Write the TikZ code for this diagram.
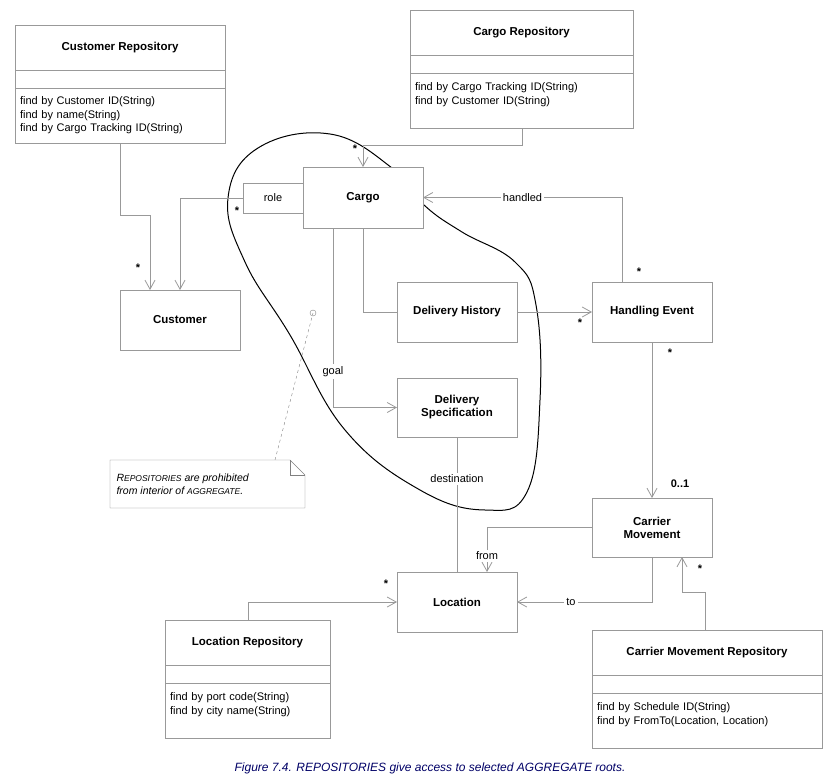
\documentclass[tikz,border=0pt]{standalone}
\usepackage{fontspec}
\setmainfont{Liberation Sans}
\usetikzlibrary{arrows.meta,positioning}
\tikzset{
	every class/.style={
		rectangle,
		draw=gray!80,
		fill=white,
		font=\fontsize{11.5}{13}\selectfont\bfseries,
		align=center,
		inner sep=0pt,
		outer sep=0pt
	},
	class part/.style={
		rectangle,
		draw=gray!80,
		fill=white,
		font=\fontsize{11}{13.5}\selectfont,
		align=left,
		inner xsep=5pt,
		inner ysep=4pt,
		outer sep=0pt,
		anchor=north west
	},
	assoc/.style={
		draw=gray!80,
		line width=0.8pt
	},
	nav/.style={
		assoc,
		-{Straight Barb[length=9pt,width=10pt]}
	},
	mult/.style={
		font=\fontsize{11}{13}\selectfont\bfseries
	},
	lbl/.style={
		fill=white,
		inner sep=2pt,
		font=\fontsize{11}{13}\selectfont
	},
}

\begin{document}
\begin{tikzpicture}[x=1pt,y=-1pt]
\useasboundingbox (0,0) rectangle (838,784);

% aggregate boundary
\draw[line width=1pt] plot[smooth cycle, tension=0.7] coordinates {
	(392,168) (330,134) (258,148) (228,198) (245,262) (290,335)
	(345,430) (420,490) (485,510) (527,492) (540,400) (536,305)
	(515,262) (462,232) (424,205)};

% plain classes
\node[every class, minimum width=120, minimum height=61] (cargo) at (363,197.5) {Cargo};
\node[every class, minimum width=60, minimum height=30, font=\fontsize{11}{13}\selectfont] (role) at (273,198) {role};
\node[every class, minimum width=120, minimum height=60] (customer) at (180,320) {Customer};
\node[every class, minimum width=120, minimum height=60] (history) at (457,312) {Delivery History};
\node[every class, minimum width=120, minimum height=60] (event) at (652,312) {Handling Event};
\node[every class, minimum width=120, minimum height=59] (spec) at (457,407.5) {Delivery\\Specification};
\node[every class, minimum width=120, minimum height=59] (movement) at (652,527.5) {Carrier\\Movement};
\node[every class, minimum width=120, minimum height=60] (location) at (457,602) {Location};

% repositories
\node[class part, font=\fontsize{11.5}{13}\selectfont\bfseries, align=center, minimum width=210, minimum height=45] (custRepo) at (15,25) {Customer Repository};
\node[class part, minimum width=210, minimum height=18] (custRepoAttr) at (custRepo.south west) {};
\node[class part, text width=200, minimum height=55] (custRepoOps) at (custRepoAttr.south west) {find by Customer ID(String)\\find by name(String)\\find by Cargo Tracking ID(String)};

\node[class part, font=\fontsize{11.5}{13}\selectfont\bfseries, align=center, minimum width=223, minimum height=45] (cargoRepo) at (410,10) {Cargo Repository};
\node[class part, minimum width=223, minimum height=18] (cargoRepoAttr) at (cargoRepo.south west) {};
\node[class part, text width=213, minimum height=55] (cargoRepoOps) at (cargoRepoAttr.south west) {find by Cargo Tracking ID(String)\\find by Customer ID(String)\\\mbox{}};

\node[class part, font=\fontsize{11.5}{13}\selectfont\bfseries, align=center, minimum width=165, minimum height=45] (locRepo) at (165,620) {Location Repository};
\node[class part, minimum width=165, minimum height=18] (locRepoAttr) at (locRepo.south west) {};
\node[class part, text width=155, minimum height=55] (locRepoOps) at (locRepoAttr.south west) {find by port code(String)\\find by city name(String)\\\mbox{}};

\node[class part, font=\fontsize{11.5}{13}\selectfont\bfseries, align=center, minimum width=230, minimum height=45] (moveRepo) at (592,630) {Carrier Movement Repository};
\node[class part, minimum width=230, minimum height=18] (moveRepoAttr) at (moveRepo.south west) {};
\node[class part, text width=220, minimum height=55] (moveRepoOps) at (moveRepoAttr.south west) {find by Schedule ID(String)\\find by FromTo(Location, Location)\\\mbox{}};

% associations
\draw[nav] (custRepoOps.south west) ++(105,0) |- (150,215) -- (customer.north -| 150,0);
\draw[nav] (role.west) -| (customer.north -| 180,0);
\draw[nav] (cargoRepoOps.south west) ++(112,0) |- (363,145) -- (cargo.north);
\draw[nav] (cargo.south -| 333,0) |- (spec.west) node[pos=0.4, lbl] {goal};
\draw[assoc] (cargo.south) |- (history.west);
\draw[nav] (history.east) -- (event.west);
\draw[nav] (event.north -| 622,0) |- (cargo.east) node[pos=0.75, lbl] {handled};
\draw[nav] (event.south) -- (movement.north);
\draw[assoc] (spec.south) -- (location.north) node[pos=0.31, lbl] {destination};
\draw[nav] (movement.west) -| (location.north -| 487,0) node[pos=0.82, lbl] {from};
\draw[nav] (movement.south) |- (location.east) node[pos=0.8, lbl] {to};
\draw[nav] (locRepo.north west) ++(83,0) |- (location.west);
\draw[nav] (moveRepo.north west) ++(113,0) |- (682,592) -- (movement.south -| 682,0);

% multiplicities
\node[mult] (mCust) at (138,268) {*};
\node[mult] (mRole) at (237,211) {*};
\node[mult] (mCargo) at (355,149) {*};
\node[mult] (mEvent) at (580,323) {*};
\node[mult] (mHandled) at (639,272) {*};
\node[mult] (mMove) at (670,353) {*};
\node[mult] (mZero) at (680,484) {0..1};
\node[mult] (mLoc) at (386,584) {*};
\node[mult] (mRepo) at (700,569) {*};

% note
\coordinate (pin) at (313,313);
\draw[gray, dashed] (275,460) -- (pin);
\draw[gray] (pin) circle (3);
\draw[gray, fill=white] (110,460) -- (290,460) -- (305,475) -- (305,508) -- (110,508) -- cycle;
\draw[gray] (290,460) -- (290,475) -- (305,475);
\node[font=\fontsize{10.5}{13}\selectfont\itshape, align=left, anchor=west] (note) at (113,484) {R{\fontsize{8.5}{10}\selectfont EPOSITORIES} are prohibited\\from interior of {\fontsize{8.5}{10}\selectfont AGGREGATE}.};

% caption
\node[font=\fontsize{12}{14}\selectfont\itshape, text=blue!40!black] (caption) at (430,768) {Figure 7.4. REPOSITORIES give access to selected AGGREGATE roots.};
\end{tikzpicture}
\end{document}
